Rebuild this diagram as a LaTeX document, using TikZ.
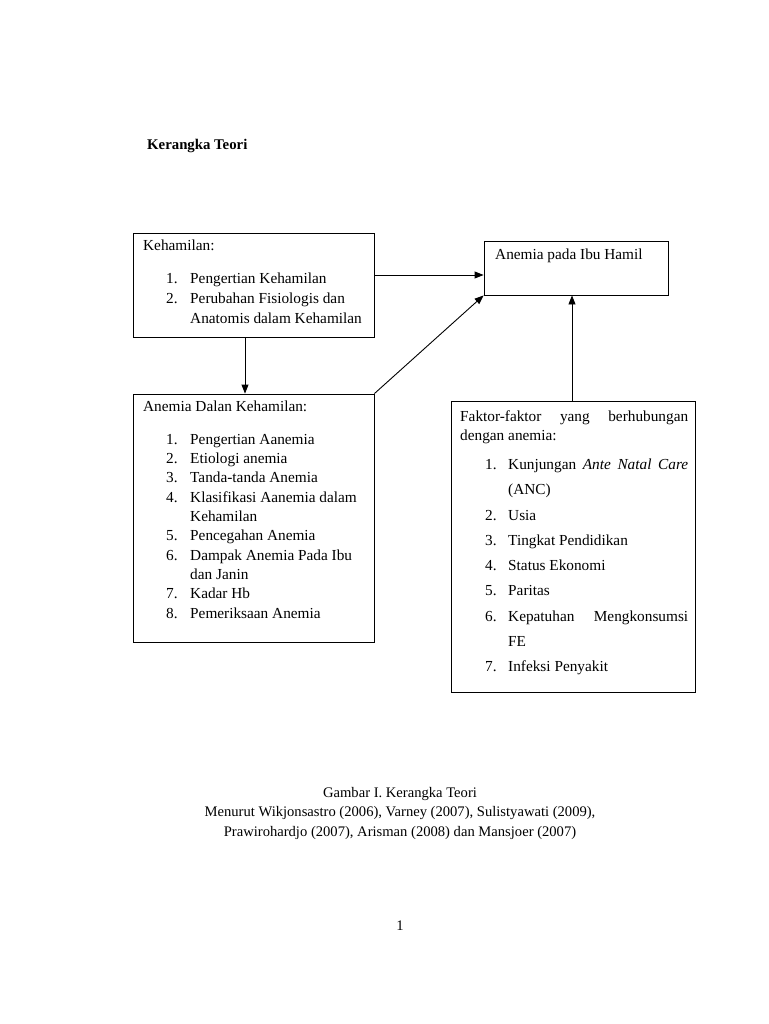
\documentclass[tikz,border=0pt]{standalone}
\usepackage{fontspec}
\setmainfont{Liberation Serif}
\usetikzlibrary{arrows.meta}
\newcommand{\bodyfont}{\fontsize{15.3}{19}\selectfont}
\newcommand{\capfont}{\fontsize{14.6}{19}\selectfont}
\begin{document}
\begin{tikzpicture}[x=1pt,y=-1pt,
  box/.style={draw,line width=0.9pt,inner sep=0pt,minimum width=#1},
  txt/.style={anchor=base west,inner sep=0pt,font=\bodyfont},
  ctxt/.style={anchor=base,inner sep=0pt,font=\capfont},
  arr/.style={line width=0.9pt,-{Triangle[length=9pt,width=7pt]}}]
\useasboundingbox (0,0) rectangle (768,1024);
\fill[white] (0,0) rectangle (768,1024);

% title
\node[anchor=base west,inner sep=0pt,font=\fontsize{14.8}{18}\selectfont\bfseries] (title) at (147,150) {Kerangka Teori};

% boxes
\node[box=241pt,minimum height=104pt] (k) at (253.5,285) {};
\node[box=241pt,minimum height=248pt] (ad) at (253.5,518) {};
\node[box=184pt,minimum height=54pt] (h) at (576,268) {};
\node[box=244pt,minimum height=291pt] (f) at (573,546.5) {};

% box 1 text
\node[txt] (k0) at (143,251) {Kehamilan:};
\node[txt] (k1n) at (166,283) {1.};
\node[txt] (k1) at (190,283) {Pengertian Kehamilan};
\node[txt] (k2n) at (166,303) {2.};
\node[txt] (k2) at (190,303) {Perubahan Fisiologis dan};
\node[txt] (k2b) at (190,323) {Anatomis dalam Kehamilan};

% box 3 text
\node[txt] (h0) at (495,259) {Anemia pada Ibu Hamil};

% box 2 text
\node[txt] (a0) at (143,411) {Anemia Dalan Kehamilan:};
\node[txt] (a1n) at (166,444) {1.};
\node[txt] (a1) at (190,444) {Pengertian Aanemia};
\node[txt] (a2n) at (166,463.3) {2.};
\node[txt] (a2) at (190,463.3) {Etiologi anemia};
\node[txt] (a3n) at (166,482.7) {3.};
\node[txt] (a3) at (190,482.7) {Tanda-tanda Anemia};
\node[txt] (a4n) at (166,502) {4.};
\node[txt] (a4) at (190,502) {Klasifikasi Aanemia dalam};
\node[txt] (a4b) at (190,521.3) {Kehamilan};
\node[txt] (a5n) at (166,540.7) {5.};
\node[txt] (a5) at (190,540.7) {Pencegahan Anemia};
\node[txt] (a6n) at (166,560) {6.};
\node[txt] (a6) at (190,560) {Dampak Anemia Pada Ibu};
\node[txt] (a6b) at (190,579.3) {dan Janin};
\node[txt] (a7n) at (166,598.7) {7.};
\node[txt] (a7) at (190,598.7) {Kadar Hb};
\node[txt] (a8n) at (166,618) {8.};
\node[txt] (a8) at (190,618) {Pemeriksaan Anemia};

% box 4 text
\node[txt] (f0) at (460,421) {\hbox to 228pt{Faktor-faktor\hfill yang\hfill berhubungan}};
\node[txt] (f0b) at (460,440) {dengan anemia:};
\node[txt] (f1n) at (485,469.5) {1.};
\node[txt] (f1) at (508,469.5) {\hbox to 180pt{Kunjungan\hfill\textit{Ante}\hfill\textit{Natal}\hfill\textit{Care}}};
\node[txt] (f1b) at (508,494.75) {(ANC)};
\node[txt] (f2n) at (485,520) {2.};
\node[txt] (f2) at (508,520) {Usia};
\node[txt] (f3n) at (485,545.25) {3.};
\node[txt] (f3) at (508,545.25) {Tingkat Pendidikan};
\node[txt] (f4n) at (485,570.5) {4.};
\node[txt] (f4) at (508,570.5) {Status Ekonomi};
\node[txt] (f5n) at (485,595.75) {5.};
\node[txt] (f5) at (508,595.75) {Paritas};
\node[txt] (f6n) at (485,621) {6.};
\node[txt] (f6) at (508,621) {\hbox to 180pt{Kepatuhan\hfill Mengkonsumsi}};
\node[txt] (f6b) at (508,646.25) {FE};
\node[txt] (f7n) at (485,671.5) {7.};
\node[txt] (f7) at (508,671.5) {Infeksi Penyakit};

% connectors
\draw[arr] ([yshift=10pt]k.east) coordinate (p1) -- (p1 -| h.west);
\draw[arr] ([xshift=-8.5pt]k.south) coordinate (p2) -- (p2 |- ad.north);
\draw[arr] (ad.north east) -- (h.south west);
\draw[arr] ([xshift=-1pt]f.north) coordinate (p3) -- (p3 |- h.south);

% caption
\node[ctxt] (c1) at (400,797) {Gambar I. Kerangka Teori};
\node[ctxt] (c2) at (400,816.5) {Menurut Wikjonsastro (2006), Varney (2007), Sulistyawati (2009),};
\node[ctxt] (c3) at (400,836) {Prawirohardjo (2007), Arisman (2008) dan Mansjoer (2007)};
\node[ctxt] (pg) at (400,930) {1};
\end{tikzpicture}
\end{document}
